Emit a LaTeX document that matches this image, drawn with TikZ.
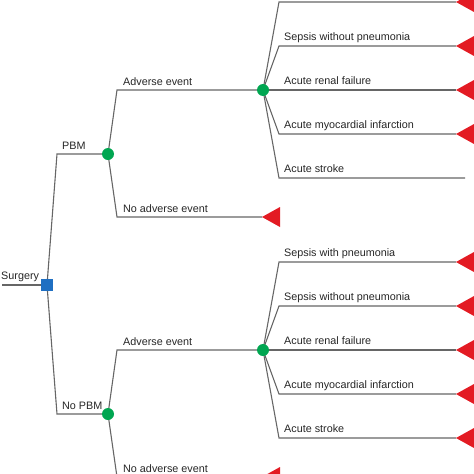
\documentclass[tikz,border=0pt]{standalone}
\usepackage{fontspec}
\setmainfont{Liberation Sans}
\usetikzlibrary{backgrounds}
\definecolor{linegray}{HTML}{666666}
\definecolor{decblue}{HTML}{1F6FC2}
\definecolor{chgreen}{HTML}{00A651}
\definecolor{termred}{HTML}{E31B23}
\tikzset{
  conn/.style={draw=linegray, line width=1.1pt},
  decision/.style={fill=decblue, minimum size=12pt, inner sep=0pt, draw=none},
  chance/.style={circle, fill=chgreen, minimum size=12pt, inner sep=0pt, draw=none},
  lbl/.style={anchor=base west, inner sep=0pt, font=\fontsize{10.8}{13}\selectfont, text=black!85},
  term/.style={fill=termred}
}
\newcommand{\termtri}[1]{\fill[term] (#1) -- ++(18,-10) -- ++(0,20) -- cycle;}
\begin{document}
\begin{tikzpicture}[x=1pt,y=-1pt]
\useasboundingbox (0,0) rectangle (474,474);
% nodes
\coordinate (start) at (2,285);
\node[decision] (sq) at (47,285) {};
\coordinate (cPBM) at (57,154);
\coordinate (cNoPBM) at (57,414);
\node[chance] (pbm) at (108,154) {};
\node[chance] (nopbm) at (108,414) {};
\coordinate (cAE1) at (117,90);
\coordinate (cNAE1) at (117,217);
\coordinate (cAE2) at (117,350);
\coordinate (cNAE2) at (117,477);
\node[chance] (ae1) at (263,90) {};
\node[chance] (ae2) at (263,350) {};
\coordinate (tNAE1) at (262,217);
\coordinate (tNAE2) at (262,477);
% top outcomes
\foreach \i/\y in {1/2,2/46,3/90,4/134,5/178}{
  \coordinate (a\i) at (279,\y);
  \coordinate (ta\i) at (456,\y);
}
\coordinate (ta5) at (465,178);
\foreach \i/\y in {1/262,2/306,3/350,4/394,5/438}{
  \coordinate (b\i) at (279,\y);
  \coordinate (tb\i) at (456,\y);
}
\begin{scope}[on background layer]
\draw[conn] (start) -- (sq.center);
\draw[conn] (sq.center) -- (cPBM) -- (pbm.center);
\draw[conn] (sq.center) -- (cNoPBM) -- (nopbm.center);
\draw[conn] (pbm.center) -- (cAE1) -- (ae1.center);
\draw[conn] (pbm.center) -- (cNAE1) -- (tNAE1);
\draw[conn] (nopbm.center) -- (cAE2) -- (ae2.center);
\draw[conn] (nopbm.center) -- (cNAE2) -- (tNAE2);
\foreach \i in {1,...,5}{
  \draw[conn] (ae1.center) -- (a\i) -- (ta\i);
  \draw[conn] (ae2.center) -- (b\i) -- (tb\i);
}
\end{scope}
% terminals
\termtri{tNAE1}
\termtri{tNAE2}
\foreach \i in {1,...,4}{\termtri{ta\i}}
\foreach \i in {1,...,5}{\termtri{tb\i}}
% labels
\node[lbl] at (1,279) {Surgery};
\node[lbl] at (62,149) {PBM};
\node[lbl] at (62,409) {No PBM};
\node[lbl] at (123,85) {Adverse event};
\node[lbl] at (123,212) {No adverse event};
\node[lbl] at (123,345) {Adverse event};
\node[lbl] at (123,472) {No adverse event};
\foreach \y/\t in {40/Sepsis without pneumonia,84/Acute renal failure,128/Acute myocardial infarction,172/Acute stroke}{
  \node[lbl] at (284,\y) {\t};
}
\foreach \y/\t in {256/Sepsis with pneumonia,300/Sepsis without pneumonia,344/Acute renal failure,388/Acute myocardial infarction,432/Acute stroke}{
  \node[lbl] at (284,\y) {\t};
}
\end{tikzpicture}
\end{document}
